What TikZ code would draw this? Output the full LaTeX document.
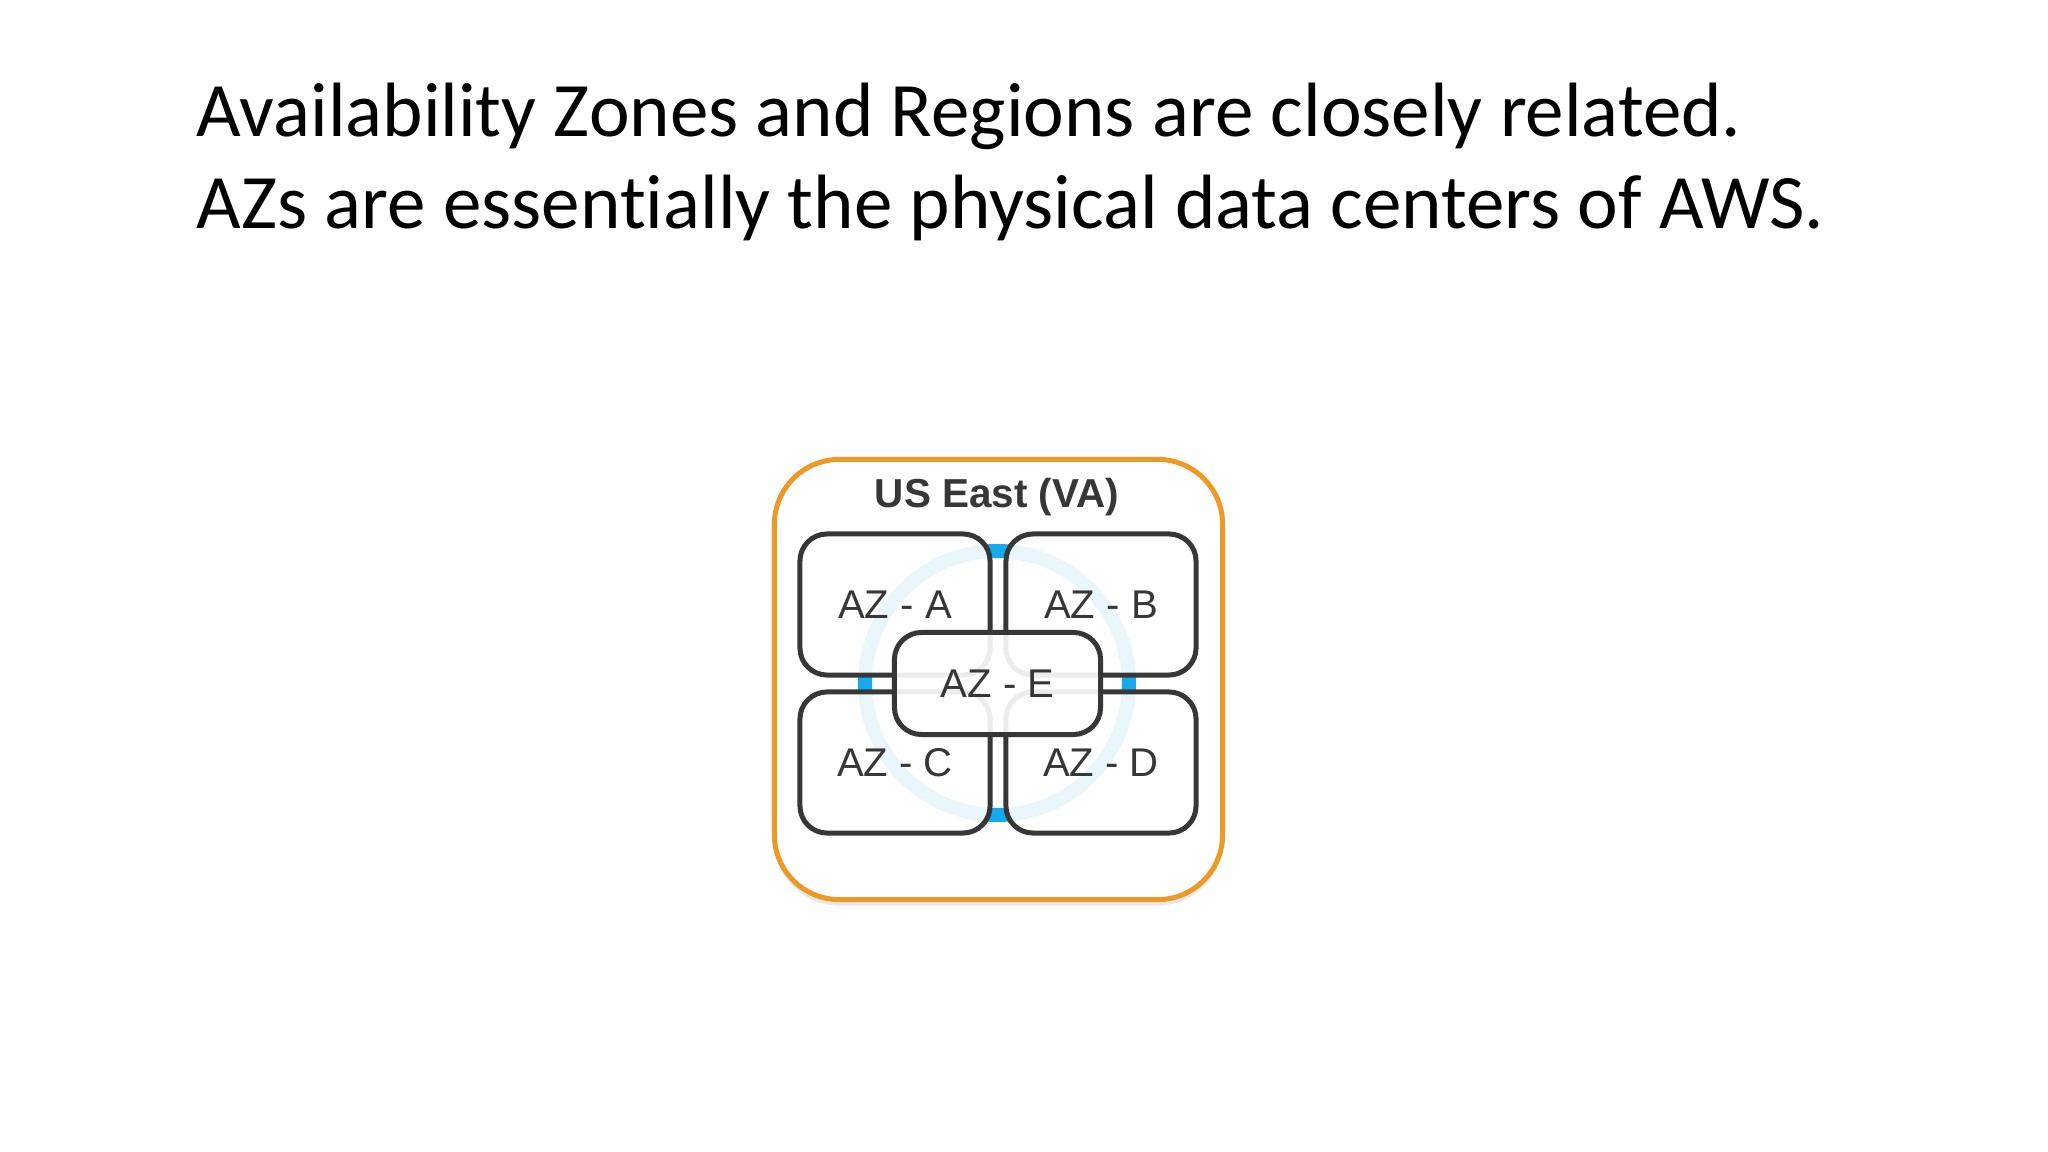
\documentclass[tikz,border=0pt]{standalone}
\usepackage{fontspec}
\setmainfont{Carlito}[Ligatures=NoCommon]
\newfontfamily\arialfont{Liberation Sans}
\usetikzlibrary{positioning,shadows}
\definecolor{RegOrange}{RGB}{240,152,36}
\definecolor{ZoneGray}{RGB}{55,55,55}
\definecolor{LinkBlue}{RGB}{20,170,235}
\tikzset{
	title/.style={anchor=base west, inner sep=0pt, font=\fontsize{21.9pt}{26pt}\selectfont},
	region/.style={draw=RegOrange, line width=0.5mm, fill=white, rounded corners=6.5mm,
		drop shadow={opacity=0.18, shadow xshift=0mm, shadow yshift=-0.6mm}},
	reglab/.style={anchor=base, inner sep=0pt, text=ZoneGray, font=\arialfont\bfseries\fontsize{11.5pt}{13pt}\selectfont},
	zone/.style={draw=ZoneGray, line width=0.5mm, fill=white, fill opacity=0.91, text opacity=1,
		rounded corners=2.7mm, minimum width=1.90cm, minimum height=1.41cm, inner sep=0pt,
		text=ZoneGray, font=\arialfont\fontsize{11.4pt}{13pt}\selectfont},
	link/.style={draw=LinkBlue, line width=1.4mm}
}
\begin{document}
\begin{tikzpicture}[x=0.01cm, y=-0.01cm]
	\useasboundingbox (0,0) rectangle (2048,1152);
	% heading
	\node[title] (title1) at (196,137) {Availability Zones and Regions are closely related.};
	\node[title] (title2) at (196,229) {AZs are essentially the physical data centers of AWS.};
	% region
	\node[region, minimum width=4.48cm, minimum height=4.40cm] (region) at (998.5,679.5) {};
	\node[reglab] (reglab) at (997,508) {US East (VA)};
	% interconnect
	\draw[link] (997,683) circle[radius=132];
	% availability zones
	\node[zone] (azA) at (895,604.5) {AZ - A};
	\node[zone] (azB) at (1101,604.5) {AZ - B};
	\node[zone] (azC) at (895,762.5) {AZ - C};
	\node[zone] (azD) at (1101,762.5) {AZ - D};
	\node[zone, minimum width=2.06cm, minimum height=1.02cm] (azE) at (997.5,683.5) {AZ - E};
\end{tikzpicture}
\end{document}
